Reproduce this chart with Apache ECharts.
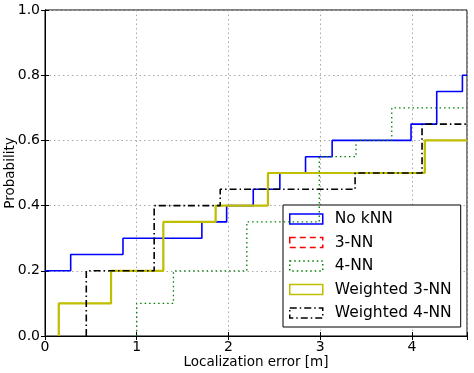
<!DOCTYPE html>
<html>
<head>
<meta charset="utf-8">
<script src="https://cdn.jsdelivr.net/npm/echarts@6/dist/echarts.min.js"></script>
<style>html,body{margin:0;padding:0;background:#fff}#c{width:474px;height:373px}</style>
</head>
<body>
<div id="c"></div>
<script>
// Step (CDF) data: [x = localization error (m), y = probability], value holds until next x
const seriesNames = ['No kNN', '3-NN', '4-NN', 'Weighted 3-NN', 'Weighted 4-NN'];
const noKNN = [[0,0.2],[0.28,0.25],[0.85,0.3],[1.71,0.35],[1.98,0.4],[2.27,0.45],[2.56,0.5],[2.84,0.55],[3.13,0.6],[3.99,0.65],[4.27,0.75],[4.55,0.8],[4.6,0.8]];
const nn3 = [[0.15,0],[0.15,0.1],[0.72,0.2],[1.29,0.35],[1.86,0.4],[2.43,0.5],[4.14,0.6],[4.6,0.6]];
const nn4 = [[1.0,0],[1.0,0.1],[1.4,0.2],[2.2,0.35],[2.99,0.55],[3.39,0.6],[3.78,0.7],[4.6,0.7]];
const wnn3 = [[0.15,0],[0.15,0.1],[0.72,0.2],[1.29,0.35],[1.86,0.4],[2.43,0.5],[4.14,0.6],[4.6,0.6]];
const wnn4 = [[0.45,0],[0.45,0.2],[1.19,0.4],[1.91,0.45],[3.38,0.5],[4.11,0.65],[4.6,0.65]];
const xTicks = [0, 1, 2, 3, 4];
const yTicks = [0.0, 0.2, 0.4, 0.6, 0.8, 1.0];

const FONT = 'DejaVu Sans';
const colors = ['#0000ff', '#ff0000', '#008000', '#bfbf00', '#000000'];
const dashes = ['solid', [6, 4], [1.5, 3], 'solid', [7, 3, 1.5, 3]];
const widths = [1.6, 1, 1.3, 2.2, 1.6];
const datasets = [noKNN, nn3, nn4, wnn3, wnn4];

const chart = echarts.init(document.getElementById('c'), null, {renderer: 'canvas'});
const axisCommon = {
  axisLine: {show: true, lineStyle: {color: '#000', width: 1}},
  axisTick: {show: true, inside: true, length: 4, lineStyle: {color: '#000'}},
};
const option = {
  animation: false,
  backgroundColor: '#fff',
  grid: {left: 45, right: 7, top: 10, bottom: 37, show: true, borderColor: '#000', borderWidth: 1,
    containLabel: false, outerBoundsMode: 'none'},
  xAxis: [
    Object.assign({
      type: 'value', min: 0, max: 4.6, interval: 1,
      name: 'Localization error [m]', nameLocation: 'middle', nameGap: 19, nameMoveOverlap: false,
      nameTextStyle: {fontFamily: FONT, fontSize: 13.5, color: '#000'},
      axisLabel: {fontFamily: FONT, fontSize: 14, color: '#000', margin: 4,
        formatter: v => xTicks.includes(v) ? String(v) : ''},
      splitLine: {show: true, lineStyle: {color: '#a8a8a8', type: [1.5, 3], width: 1}},
    }, axisCommon),
    Object.assign({
      type: 'value', min: 0, max: 4.6, interval: 1, position: 'top',
      axisLabel: {show: false}, splitLine: {show: false}
    }, axisCommon)
  ],
  yAxis: [
    Object.assign({
      type: 'value', min: 0, max: 1, interval: 0.2,
      name: 'Probability', nameLocation: 'middle', nameGap: 28, nameMoveOverlap: false,
      nameTextStyle: {fontFamily: FONT, fontSize: 13.5, color: '#000'},
      axisLabel: {fontFamily: FONT, fontSize: 14, color: '#000', margin: 5,
        formatter: v => yTicks.some(t => Math.abs(t - v) < 1e-9) ? v.toFixed(1) : ''},
      splitLine: {show: true, lineStyle: {color: '#a8a8a8', type: [1.5, 3], width: 1}},
    }, axisCommon),
    Object.assign({
      type: 'value', min: 0, max: 1, interval: 0.2, position: 'right',
      axisLabel: {show: false}, splitLine: {show: false}
    }, axisCommon)
  ],
  legend: {
    orient: 'vertical', left: 283, top: 205,
    padding: [6, 9, 6, 6], itemGap: 7.5, itemWidth: 33, itemHeight: 10,
    backgroundColor: '#fff', borderColor: '#000', borderWidth: 1, borderRadius: 0,
    textStyle: {fontFamily: FONT, fontSize: 15.5, color: '#000', lineHeight: 16, padding: [0, 0, 0, 7]},
    data: seriesNames.map((n, i) => ({
      name: n, icon: 'rect',
      itemStyle: {color: 'rgba(0,0,0,0)', borderColor: colors[i], borderWidth: 1.5, borderType: dashes[i]}
    }))
  },
  series: seriesNames.map((n, i) => ({
    name: n, type: 'line', step: 'end', data: datasets[i], showSymbol: false, symbol: 'none',
    xAxisIndex: 0, yAxisIndex: 0, z: 2 + i,
    lineStyle: {color: colors[i], width: widths[i], type: dashes[i]},
    itemStyle: {color: colors[i]}
  }))
};
chart.setOption(option);
</script>
</body>
</html>
